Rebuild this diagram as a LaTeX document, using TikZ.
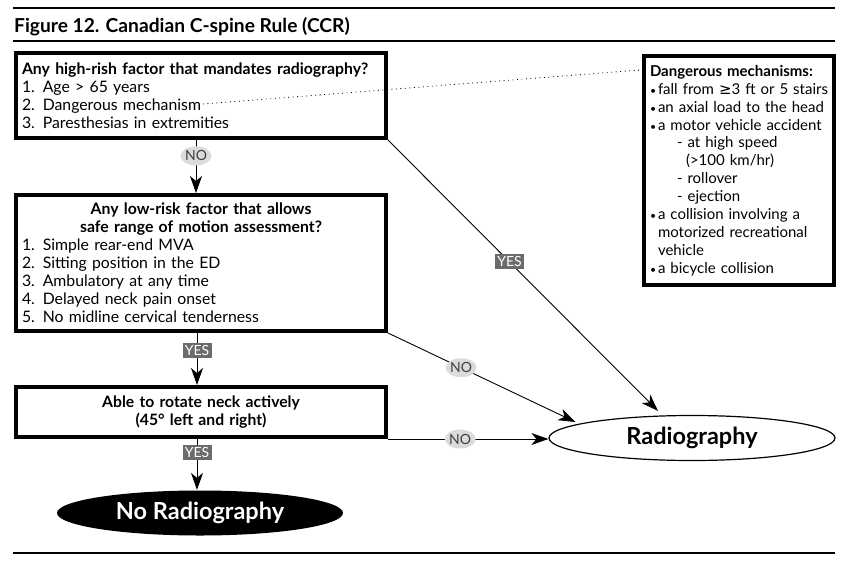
\documentclass[tikz,border=0pt]{standalone}
\usepackage{fontspec}
\setmainfont{Lato}
\newfontfamily\symfont{DejaVu Sans}
\usetikzlibrary{arrows.meta,positioning,shapes.geometric,calc}
\newcommand{\dbul}{\makebox[8pt][l]{\scalebox{0.7}{\textbullet}}}

\begin{document}
\begin{tikzpicture}[x=1pt,y=-1pt,
  rulebox/.style={draw, line width=4pt, inner xsep=6pt, inner ysep=0pt, align=left, font=\fontsize{15.8}{18}\selectfont},
  nolabel/.style={ellipse, fill=black!14, text=black!75, inner sep=0pt, minimum width=28pt, minimum height=19pt, font=\fontsize{14}{14}\selectfont},
  yeslabel/.style={fill=black!58, text=white, inner sep=0pt, minimum width=29pt, minimum height=15pt, font=\fontsize{14}{14}\selectfont},
  flow/.style={line width=0.9pt, -{Stealth[length=17pt,width=12pt,inset=5pt]}},
  endnode/.style={ellipse, line width=1.2pt, minimum width=286pt, minimum height=45pt, font=\bfseries\fontsize{23.5}{24}\selectfont}
]
\useasboundingbox (0,0) rectangle (846,565);

% title and rules
\draw[line width=1.2pt] (13,8) -- (835,8);
\draw[line width=1.2pt] (13,41) -- (835,41);
\draw[line width=1.2pt] (13,553) -- (835,553);
\node[anchor=base west, inner sep=0pt, font=\bfseries\fontsize{19.2}{20}\selectfont] (title) at (14,32) {Figure 12. Canadian C-spine Rule (CCR)};

% decision boxes
\node[rulebox, minimum width=370pt, minimum height=85pt, text width=358pt] (highrisk) at (201,95.5)
  {\textbf{Any high-rish factor that mandates radiography?}\\
   1. Age > 65 years\\
   2. Dangerous mechanism\\
   3. Paresthesias in extremities};

\node[rulebox, minimum width=370pt, minimum height=136pt, text width=358pt] (lowrisk) at (201,263)
  {{\centering\bfseries Any low-risk factor that allows\\ safe range of motion assessment?\par}
   1. Simple rear-end MVA\\
   2. Sitting position in the ED\\
   3. Ambulatory at any time\\
   4. Delayed neck pain onset\\
   5. No midline cervical tenderness};

\node[rulebox, align=center, minimum width=370pt, minimum height=50pt, text width=358pt, font=\bfseries\fontsize{15.7}{18}\selectfont] (rotate) at (201,412)
  {Able to rotate neck actively\\ (45° left and right)};

\node[rulebox, minimum width=190pt, minimum height=229pt, text width=178pt, font=\fontsize{15}{17.9}\selectfont] (danger) at (739,170.5)
  {\mbox{\textbf{Dangerous mechanisms:}}\\
   \mbox{\dbul fall from {\symfont ≥}3 ft or 5 stairs}\\
   \mbox{\dbul an axial load to the head}\\
   \mbox{\dbul a motor vehicle accident}\\
   \hspace*{27pt}- at high speed\\
   \hspace*{36pt}(>100 km/hr)\\
   \hspace*{27pt}- rollover\\
   \hspace*{27pt}- ejection\\
   \mbox{\dbul a collision involving a}\\
   \hspace*{8pt}\mbox{motorized recreational}\\
   \hspace*{8pt}vehicle\\
   \mbox{\dbul a bicycle collision}};

% outcomes
\node[endnode, fill=black, text=white] (norad) at (200,513) {No Radiography};
\node[endnode, draw] (radio) at (692,438) {Radiography};

% connectors
\coordinate (mechend) at (203,104);
\coordinate (dangend) at (640,70);
\draw[line width=0.8pt, dash pattern=on 0.9pt off 3.6pt] (mechend) -- (dangend);

\draw[flow] ([xshift=-5pt]highrisk.south) -- node[nolabel, pos=0.3] {NO} ([xshift=-5pt]lowrisk.north);
\draw[flow] ([xshift=-4pt]lowrisk.south) -- node[yeslabel, pos=0.33] {YES} ([xshift=-4pt]rotate.north);
\draw[flow] ([xshift=-4pt]rotate.south) -- node[yeslabel, pos=0.26] {YES} ([xshift=-3pt]norad.north);

\draw[flow] (highrisk.south east) -- node[yeslabel, pos=0.45] {YES} ([xshift=-34pt,yshift=4pt]radio.north);
\draw[flow] (lowrisk.south east) -- node[nolabel, pos=0.39] {NO} ([xshift=27pt,yshift=16pt]radio.west);
\draw[flow] (rotate.south east) -- node[nolabel, pos=0.45] {NO} (rotate.south east -| radio.west);
\end{tikzpicture}
\end{document}
